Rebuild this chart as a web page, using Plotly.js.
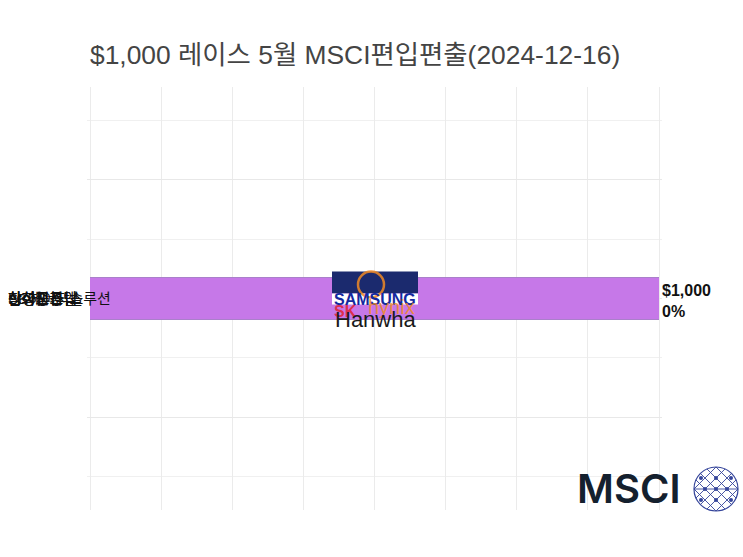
<!DOCTYPE html>
<html>
<head>
<meta charset="utf-8">
<script src="https://cdn.plot.ly/plotly-3.0.1.min.js"></script>
<style>html,body{margin:0;padding:0;background:#fff;}#chart{width:743px;height:557px;}</style>
</head>
<body>
<div id="chart"></div>
<script>
// ---- data ----
const companies = ["LG에너지솔루션", "삼성중공업", "SK하이닉스", "한화오션", "삼성전자", "한화시스템"];
const values = [1000, 1000, 1000, 1000, 1000, 1000];
const changes = [0, 0, 0, 0, 0, 0];
const barColors = ["#5b8def", "#f2a33a", "#e35b5b", "#4cbf8c", "#8a6fd6", "#c678e8"];
const titleText = "$1,000 레이스 5월 MSCI편입편출(2024-12-16)";
const barPos = 0;

const FONT = "Liberation Sans, Arial, Noto Sans CJK KR, sans-serif";
const L = 87, R = 81, T = 87, B = 47, PW = 743 - L - R, PH = 557 - T - B;
const px = x => (x - L) / PW;
const py = y => (557 - B - y) / PH;

const traces = companies.map((c, i) => ({
  type: 'bar', orientation: 'h', name: c,
  x: [values[i]], y: [barPos], width: 0.71,
  marker: {color: barColors[i]}, hoverinfo: 'none', showlegend: false
}));

const maxV = Math.max(...values);
const ann = [];
// overlapping company labels at left
companies.forEach(c => ann.push({
  xref: 'paper', yref: 'y', x: px(6), y: barPos, xanchor: 'left', yanchor: 'middle',
  text: c, showarrow: false, font: {family: FONT, size: 15, color: '#111'}
}));
// value label
ann.push({
  xref: 'x', yref: 'y', x: maxV, y: barPos, xanchor: 'left', yanchor: 'middle', xshift: 1, yshift: -2,
  align: 'left', showarrow: false,
  text: '<b>$' + values[values.length - 1].toLocaleString('en-US') + '</b><br><b>' + changes[changes.length - 1] + '%</b>',
  font: {family: FONT, size: 16, color: '#111'}
});
// logo texts at bar middle
const mid = maxV / 2;
ann.push({xref: 'x', yref: 'y', x: mid, y: barPos, xshift: 0.5, yshift: -0.5, showarrow: false,
  text: '<b>SAMSUNG</b>', font: {family: FONT, size: 16, color: '#1428a0'}});
ann.push({xref: 'x', yref: 'y', x: mid, y: barPos, xshift: -29, yshift: -13, showarrow: false,
  text: '<b>SK</b>', font: {family: FONT, size: 16, color: 'rgba(227,27,35,0.8)'}});
ann.push({xref: 'x', yref: 'y', x: mid, y: barPos, xshift: 17, yshift: -8, showarrow: false,
  text: 'hynix', font: {family: FONT, size: 20, color: 'rgba(240,138,36,0.85)'}});
ann.push({xref: 'x', yref: 'y', x: mid, y: barPos, xshift: 0.5, yshift: -21, showarrow: false,
  text: 'Hanwha', font: {family: FONT, size: 22, color: '#1a1a1a'}});
// MSCI logo text
ann.push({xref: 'paper', yref: 'paper', x: px(575), y: py(488), xanchor: 'left', yanchor: 'middle', showarrow: false,
  text: 'MSCI', font: {family: 'Inter, Liberation Sans, sans-serif', size: 40, color: '#14202e', weight: 600}});

const shapes = [];
// samsung navy box and white band
shapes.push({type: 'rect', xref: 'x', yref: 'y', xsizemode: 'pixel', ysizemode: 'pixel', xanchor: mid, yanchor: barPos,
  x0: -42.5, x1: 43.5, y0: 5, y1: 27, fillcolor: '#1b2a6e', line: {width: 0}});
shapes.push({type: 'rect', xref: 'x', yref: 'y', xsizemode: 'pixel', ysizemode: 'pixel', xanchor: mid, yanchor: barPos,
  x0: -42.5, x1: 43.5, y0: -6, y1: 5, fillcolor: '#ffffff', line: {width: 0}});
shapes.push({type: 'circle', xref: 'x', yref: 'y', xsizemode: 'pixel', ysizemode: 'pixel', xanchor: mid, yanchor: barPos,
  x0: -16.5, x1: 9.5, y0: 1, y1: 27, line: {color: 'rgba(240,138,36,0.85)', width: 2.5}});
// MSCI globe
const gc = {x: 716, y: 489}, gr = 22, gcol = '#34449a';
shapes.push({type: 'circle', xref: 'paper', yref: 'paper', x0: px(gc.x - gr), x1: px(gc.x + gr), y0: py(gc.y + gr), y1: py(gc.y - gr),
  line: {color: gcol, width: 1.2}});
[-22, -11, 0, 11, 22].forEach(k => {
  const t = Math.sqrt(Math.max(0, (gr * gr - k * k / 2) / 2));
  shapes.push({type: 'line', xref: 'paper', yref: 'paper',
    x0: px(gc.x + k / 2 - t), y0: py(gc.y - k / 2 - t), x1: px(gc.x + k / 2 + t), y1: py(gc.y - k / 2 + t),
    line: {color: gcol, width: 0.9}});
  shapes.push({type: 'line', xref: 'paper', yref: 'paper',
    x0: px(gc.x + k / 2 - t), y0: py(gc.y + k / 2 + t), x1: px(gc.x + k / 2 + t), y1: py(gc.y + k / 2 - t),
    line: {color: gcol, width: 0.9}});
});
shapes.push({type: 'line', xref: 'paper', yref: 'paper', x0: px(gc.x - gr), x1: px(gc.x + gr), y0: py(gc.y), y1: py(gc.y),
  line: {color: gcol, width: 0.9}});
[[0,0],[-11,0],[11,0],[0,-11],[0,11],[-15,-11],[15,11],[-15,11],[15,-11]].forEach(([dx, dy]) => {
  shapes.push({type: 'circle', xref: 'paper', yref: 'paper', x0: px(gc.x + dx - 2), x1: px(gc.x + dx + 2),
    y0: py(gc.y + dy + 2), y1: py(gc.y + dy - 2), fillcolor: gcol, line: {width: 0}});
});

// x range padded so the 0 and 1000 grid lines fall inside the plot (0 -> px 90, 1000 -> px 659)
const xpad = 3 * 1000 / 569;

const layout = {
  width: 743, height: 557,
  margin: {l: L, r: R, t: T, b: B},
  paper_bgcolor: '#ffffff', plot_bgcolor: '#ffffff',
  barmode: 'overlay',
  title: {text: titleText, x: px(90), xref: 'paper', xanchor: 'left', y: 1 - 55 / 557, yref: 'container', yanchor: 'middle',
    font: {family: FONT, size: 26.4, color: '#444'}},
  xaxis: {range: [-xpad, 1000 + xpad], dtick: 125, tick0: 0, showticklabels: false, ticks: '', zeroline: false,
    showgrid: true, gridcolor: '#ebebeb', gridwidth: 1, showline: false, fixedrange: true},
  yaxis: {range: [-3.56, 3.56], dtick: 2, tick0: 0, showticklabels: false, ticks: '', zeroline: false,
    showgrid: true, gridcolor: '#e8e8e8', gridwidth: 1.5, showline: false, fixedrange: true,
    minor: {dtick: 1, tick0: 0, showgrid: true, gridcolor: '#f0f0f0', gridwidth: 1}},
  annotations: ann,
  shapes: shapes,
  showlegend: false
};

Plotly.newPlot('chart', traces, layout, {displayModeBar: false, staticPlot: true});
</script>
</body>
</html>
